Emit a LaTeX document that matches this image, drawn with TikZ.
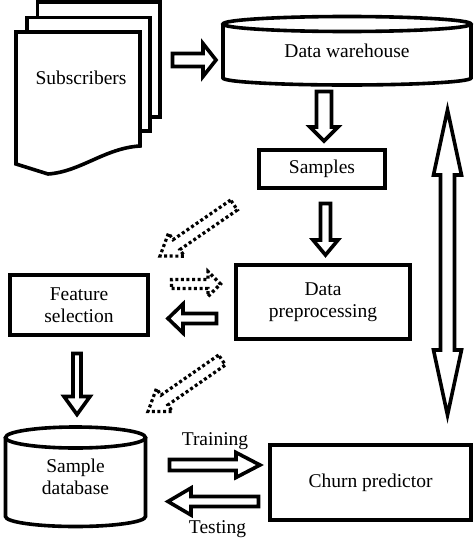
\documentclass[tikz,border=0pt]{standalone}
\usepackage{fontspec}
\setmainfont{Liberation Serif}
\usetikzlibrary{calc}

\tikzset{
  shaft half/.store in=\shafthalf, shaft half=6pt,
  head half/.store in=\headhalf, head half=14pt,
  head len/.store in=\headlen, head len=15pt,
  fat/.style={line width=3.6pt, line join=miter},
  dots/.style={fat, line width=3.2pt, dash pattern=on 3pt off 2.6pt},
  page/.style={line width=3.6pt, fill=white},
  box/.style={draw, line width=3.6pt, outer sep=0pt, align=center},
  drum/.style={outer sep=0pt, align=center},
}

% hollow block arrow from #2 to #3
\newcommand{\blockarrow}[3][]{%
  \draw[fat,#1] ($#2!\shafthalf!-90:#3$)
    -- ($#3!\headlen!#2!\shafthalf!90:#2$)
    -- ($#3!\headlen!#2!\headhalf!90:#2$)
    -- #3
    -- ($#3!\headlen!#2!\headhalf!-90:#2$)
    -- ($#3!\headlen!#2!\shafthalf!-90:#2$)
    -- ($#2!\shafthalf!90:#3$) -- cycle;}

% hollow block arrow with a head at both ends
\newcommand{\twinarrow}[3][]{%
  \draw[fat,#1] #2
    -- ($#2!\headlen!#3!\headhalf!90:#3$)
    -- ($#2!\headlen!#3!\shafthalf!90:#3$)
    -- ($#3!\headlen!#2!\shafthalf!-90:#2$)
    -- ($#3!\headlen!#2!\headhalf!-90:#2$)
    -- #3
    -- ($#3!\headlen!#2!\headhalf!90:#2$)
    -- ($#3!\headlen!#2!\shafthalf!90:#2$)
    -- ($#2!\headlen!#3!\shafthalf!-90:#3$)
    -- ($#2!\headlen!#3!\headhalf!-90:#3$) -- cycle;}

\begin{document}
\begin{tikzpicture}[x=1pt, y=-1pt, every node/.style={font=\fontsize{19.5}{22}\selectfont}]
\useasboundingbox (0,0) rectangle (474,538);

% subscriber pages
\draw[page] (37.5,2) rectangle (160,117);
\draw[page] (27,17.5) rectangle (150,131);
\draw[page, line join=miter] (16,32) -- (140,32) -- (140,146)
  .. controls (105,148) and (80,172) .. (48,174) -- (16,164) -- cycle;
\node (subs) at (81,78) {Subscribers};

% nodes
\node[drum, minimum width=248, minimum height=54] (wh) at (347,51) {Data warehouse};
\node[box, minimum width=126, minimum height=38] (samp) at (322,169) {Samples};
\node[box, minimum width=174, minimum height=74] (pre) at (323,302) {Data\\preprocessing};
\node[box, minimum width=138, minimum height=60] (feat) at (79,305) {Feature\\selection};
\node[drum, minimum width=140, minimum height=79] (db) at (75.5,477) {Sample\\database};
\node[box, minimum width=201, minimum height=75] (churn) at (370.5,482.5) {Churn predictor};
\node[anchor=base] (train) at (215,445) {Training};
\node[anchor=base] (test) at (217.5,533) {Testing};

% cylinders
\draw[fat] (wh.north west) -- (wh.south west)
  arc[start angle=180, end angle=360, x radius=124pt, y radius=7pt] -- (wh.north east);
\draw[fat] (wh.north) ellipse[x radius=124pt, y radius=7.5pt];
\draw[fat] (db.north west) -- (db.south west)
  arc[start angle=180, end angle=360, x radius=70pt, y radius=10pt] -- (db.north east);
\draw[fat] (db.north) ellipse[x radius=70pt, y radius=10.5pt];

% solid arrows
\blockarrow[shaft half=6.5pt, head half=16.5pt, head len=13pt]{([shift={(91.5,-18)}]subs.center)}{([shift={(-7,9)}]wh.west)}
\blockarrow[shaft half=7.5pt, head half=14pt, head len=14pt]{([shift={(-23,13.5)}]wh.south)}{([shift={(2,-9)}]samp.north)}
\blockarrow[shaft half=5pt, head half=12.5pt, head len=15pt]{([shift={(3.5,15.5)}]samp.south)}{([shift={(2.5,-10)}]pre.north)}
\blockarrow[shaft half=5pt, head half=14.5pt, head len=15pt]{([shift={(-19.5,16.5)}]pre.west)}{([shift={(20,13.5)}]feat.east)}
\blockarrow[shaft half=4pt, head half=13pt, head len=18pt]{([shift={(-2,18.5)}]feat.south)}{([shift={(1.5,-23)}]db.north)}
\blockarrow[shaft half=5.5pt, head half=12.5pt, head len=24pt]{([shift={(24,-12)}]db.east)}{([shift={(-10,-17.5)}]churn.west)}
\blockarrow[shaft half=5pt, head half=13.5pt, head len=23pt]{([shift={(-11.5,19)}]churn.west)}{([shift={(22.5,24.5)}]db.east)}
\twinarrow[shaft half=7pt, head half=14pt, head len=65pt]{([shift={(-23.5,32)}]wh.south east)}{([shift={(-23.5,-30)}]churn.north east)}

% dotted arrows
\blockarrow[dots, shaft half=6pt, head half=14pt, head len=20pt]{([shift={(-25,17)}]samp.south west)}{([shift={(12,-19)}]feat.north east)}
\blockarrow[dots, shaft half=4.5pt, head half=12.5pt, head len=12.5pt]{([shift={(23.5,-21)}]feat.east)}{([shift={(-15.5,-18)}]pre.west)}
\blockarrow[dots, shaft half=6pt, head half=14pt, head len=20pt]{([shift={(-14,21)}]pre.south west)}{([shift={(2.5,-26)}]db.north east)}
\end{tikzpicture}
\end{document}
